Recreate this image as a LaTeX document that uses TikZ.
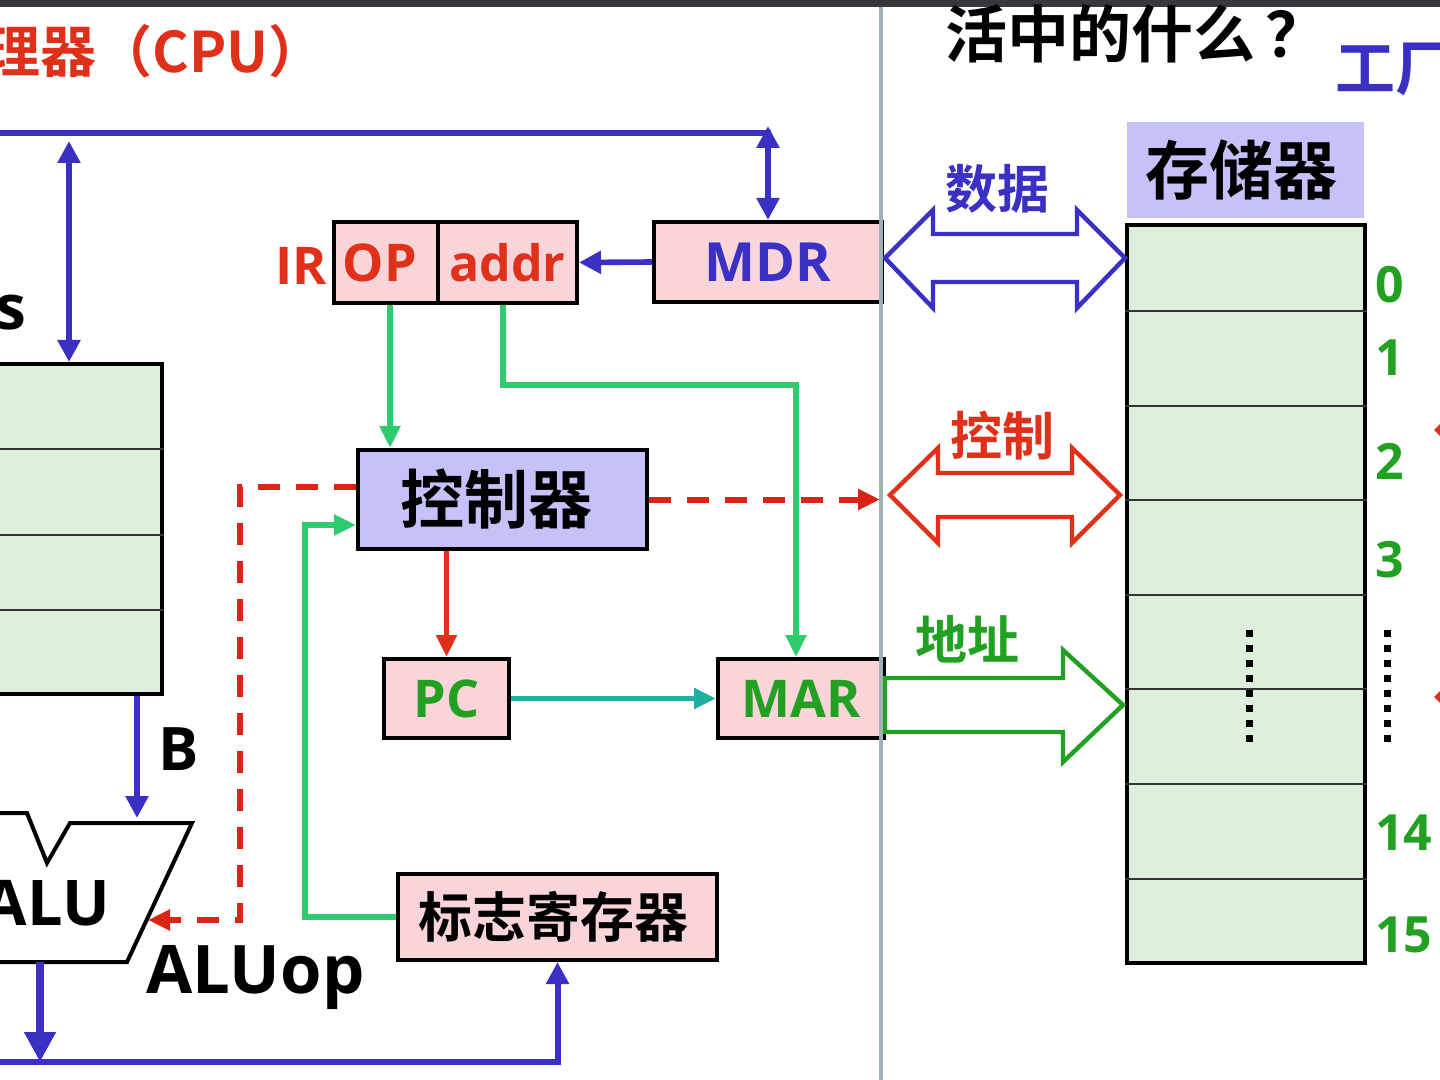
\documentclass[tikz,border=0pt]{standalone}
\usepackage{fontspec}
\newfontfamily\cjk{Noto Sans CJK SC}[BoldFont=* Bold]
\newfontfamily\lat{Open Sans}[BoldFont=* Bold]
\usetikzlibrary{arrows.meta}
\definecolor{busblue}{HTML}{3A30C4}
\definecolor{redc}{HTML}{E0301A}
\definecolor{dashred}{HTML}{DA2418}
\definecolor{grnline}{HTML}{2ECC6E}
\definecolor{tealc}{HTML}{20B0A0}
\definecolor{txtgreen}{HTML}{22A022}
\definecolor{pinkc}{HTML}{F9D5D9}
\definecolor{lavc}{HTML}{C6C1F8}
\definecolor{lgreen}{HTML}{DDEEDC}
\definecolor{divgray}{HTML}{9FB0B3}
\definecolor{topbar}{HTML}{38383C}
\newcommand{\fsz}[1]{\fontsize{#1pt}{#1pt}\selectfont}
\tikzset{
  box/.style={draw=black, line width=2pt, inner sep=0pt},
  ctext/.style={inner sep=0pt, font=\cjk\bfseries},
  ltext/.style={inner sep=0pt, font=\lat\bfseries},
  bus/.style={draw=busblue, line width=3pt, >={Triangle[length=11pt,width=11pt]}},
  grn/.style={draw=grnline, line width=2.7pt, >={Triangle[length=11pt,width=10pt]}},
  tealline/.style={draw=tealc, line width=2.8pt, >={Triangle[length=11pt,width=10pt]}},
  redline/.style={draw=redc, line width=2.7pt, >={Triangle[length=11pt,width=10pt]}},
  reddash/.style={draw=dashred, line width=3pt, dash pattern=on 11pt off 8pt, >={Triangle[length=11pt,width=10pt]}},
  rowline/.style={draw=black!80, line width=1pt},
  dotsline/.style={draw=black, line width=3.5pt, dash pattern=on 3.5pt off 4pt},
  hollow/.style={line width=2.2pt, line join=miter, fill=white},
}
\begin{document}
\begin{tikzpicture}[x=0.5pt,y=-0.5pt]
\useasboundingbox (0,0) rectangle (1440,1080);
\clip (0,0) rectangle (1440,1080);
\fill[white] (0,0) rectangle (1440,1080);
\fill[topbar] (0,0) rectangle (1440,7);

% titles
\node[ctext, text=redc, anchor=base west, font=\cjk\bfseries\fsz{28}] (title) at (-72,73) {处理器（CPU）};
\node[ctext, anchor=base west, font=\cjk\bfseries\fsz{31}] (question) at (945,58) {活中的什么\,？};
\node[ctext, text=busblue, anchor=base west, font=\cjk\bfseries\fsz{30}] (factory) at (1335,91) {工厂};

% helper y coordinates
\coordinate (y385) at (0,385);
\coordinate (y487) at (0,487);
\coordinate (y525) at (0,525);

% register file
\node[box, fill=lgreen, minimum width=86pt, minimum height=165pt] (regs) at (76,529) {};
\foreach \yy in {449,535,610} {
  \coordinate (ry) at (0,\yy);
  \draw[rowline] (regs.west |- ry) -- (regs.east |- ry);
}
\node[ltext, anchor=base east, font=\lat\bfseries\fsz{31}] (stext) at (27,330) {s};

% IR, MDR, controller, PC, MAR, flags
\node[box, fill=pinkc, minimum width=52pt, minimum height=40.5pt, text=redc, font=\lat\bfseries\fsz{26}] (irop) at (386,262.5) {\kern-6pt OP};
\node[box, fill=pinkc, minimum width=69.5pt, minimum height=40.5pt, text=redc, font=\lat\bfseries\fsz{25}] (iraddr) at (507.5,262.5) {addr};
\node[ltext, text=redc, anchor=base east, font=\lat\bfseries\fsz{26}] (irlabel) at (327,285) {IR};
\node[box, fill=pinkc, minimum width=114pt, minimum height=40pt, text=busblue, font=\lat\bfseries\fsz{27}] (mdr) at (768,262) {MDR};
\node[box, fill=lavc, minimum width=144.5pt, minimum height=49.5pt, font=\cjk\bfseries\fsz{32}] (ctrl) at (502.5,499.5) {控制器\kern6pt};
\node[box, fill=pinkc, minimum width=62.5pt, minimum height=39.5pt, text=txtgreen, font=\lat\bfseries\fsz{26}] (pc) at (446.5,698.5) {PC};
\node[box, fill=pinkc, minimum width=83pt, minimum height=39.5pt, text=txtgreen, font=\lat\bfseries\fsz{26}] (mar) at (801,698.5) {MAR};
\node[box, fill=pinkc, minimum width=159.5pt, minimum height=43pt, font=\cjk\bfseries\fsz{27}] (flag) at (557.5,917) {标志寄存器\kern4pt};

% ALU
\coordinate (aluB) at (137,818);
\coordinate (aluR) at (148,920);
\coordinate (aluOut) at (40,962);
\draw[line width=2pt, line join=miter] (-5,813) -- (27,813) -- (47,863) -- (70,823) -- (192,823) -- (127,962) -- (-5,962);
\node[ltext, anchor=base east, font=\lat\bfseries\fsz{31.5}] (alutext) at (110,925) {ALU};
\node[ltext, anchor=base west, font=\lat\bfseries\fsz{33.5}] (aluop) at (146,993) {ALUop};
\node[ltext, anchor=base west, font=\lat\bfseries\fsz{30}] (blabel) at (158,770) {B};

% buses
\coordinate (busL) at (-5,133);
\coordinate (busR) at (771,133);
\coordinate (busT) at (768,126);
\coordinate (busA) at (69,141);
\coordinate (busBL) at (-5,1062);
\coordinate (aluDown) at (40,1062);
\draw[bus] (busL) -- (busR);
\draw[bus,<->] (busT) -- (mdr.north);
\draw[bus,<->] (busA) -- (busA |- regs.north);
\draw[bus,->] (regs.south -| aluB) -- (aluB);
\draw[bus,->] (busBL) -| (flag.south);
\draw[bus, line width=4pt, >={Triangle[length=15pt,width=15pt]}, ->] (aluOut) -- (aluDown);
\draw[bus, line width=2.8pt, ->] (mdr.west) -- (iraddr.east);

% control / data lines
\coordinate (marTop) at ([xshift=-2.5pt]mar.north);
\coordinate (opBot) at ([xshift=2pt]irop.south);
\coordinate (addrBot) at ([xshift=-2.25pt]iraddr.south);
\coordinate (ctrlR) at (880,499.5);
\draw[grn,->] (opBot) -- (opBot |- ctrl.north);
\draw[grn,->] (addrBot) |- (marTop |- y385) -- (marTop);
\draw[redline,->] (ctrl.south -| pc.north) -- (pc.north);
\draw[tealline,->] (pc.east) -- (mar.west);
\draw[reddash,->] (ctrl.west |- y487) -| (240,920) -- (aluR);
\draw[grn,->] (flag.west) -| (305,525) -- (ctrl.west |- y525);
\draw[reddash,->] (ctrl.east) -- (ctrlR);

% memory
\node[fill=lavc, inner sep=0pt, minimum width=118.5pt, minimum height=48pt, font=\cjk\bfseries\fsz{32}] (memlabel) at (1245.5,170) {存储器\kern4pt};
\node[box, fill=lgreen, minimum width=119pt, minimum height=369pt] (mem) at (1246,594) {};
\foreach \yy in {311,406,500,595,689,784,879} {
  \coordinate (my) at (0,\yy);
  \draw[rowline] (mem.west |- my) -- (mem.east |- my);
}
\draw[dotsline] (1249,630) -- (1249,746);
\draw[dotsline] (1387,630) -- (1387,746);
\foreach \lab/\yy in {0/303,1/376,2/480,3/577,14/850,15/952} {
  \node[ltext, text=txtgreen, anchor=base west, font=\lat\bfseries\fsz{25}] (num\lab) at (1375,\yy) {\lab};
}

% hollow bus arrows
\draw[hollow, draw=busblue] (885,258) -- (933,210) -- (933,234) -- (1077,234) -- (1077,210) -- (1125,258) -- (1077,308) -- (1077,282) -- (933,282) -- (933,308) -- cycle;
\draw[hollow, draw=redc] (890,495) -- (938,448) -- (938,473) -- (1072,473) -- (1072,448) -- (1120,495) -- (1072,543) -- (1072,517) -- (938,517) -- (938,543) -- cycle;
\draw[hollow, draw=txtgreen] (885,678) -- (1063,678) -- (1063,650) -- (1123,705) -- (1063,762) -- (1063,732) -- (885,732) -- cycle;
\node[ctext, text=busblue, anchor=base west, font=\cjk\bfseries\fsz{26}] (datalabel) at (945,209) {数据};
\node[ctext, text=redc, anchor=base west, font=\cjk\bfseries\fsz{26}] (ctrllabel) at (950,456) {控制};
\node[ctext, text=txtgreen, anchor=base west, font=\cjk\bfseries\fsz{26}] (addrlabel) at (915,659) {地址};

% right-edge partial marks
\fill[redc] (1434,430) -- (1441,423) -- (1441,437) -- cycle;
\fill[redc] (1434,697) -- (1441,690) -- (1441,704) -- cycle;

% divider
\draw[draw=divgray, line width=2pt] (881,7) -- (881,1080);
\end{tikzpicture}
\end{document}
